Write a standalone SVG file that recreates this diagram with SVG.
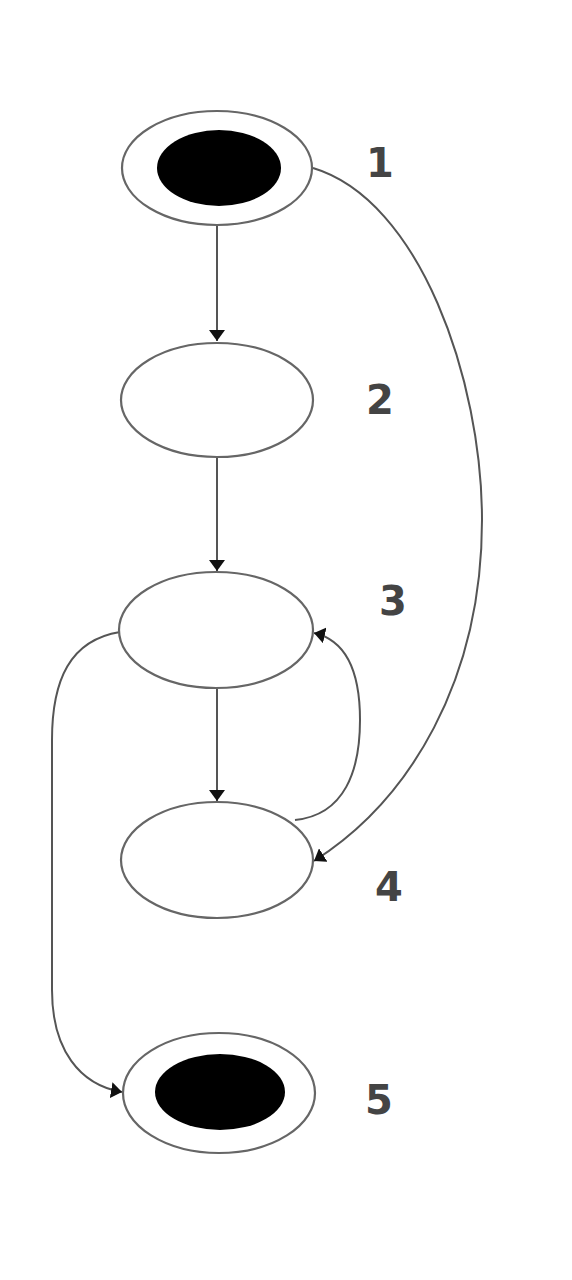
<svg xmlns="http://www.w3.org/2000/svg" width="572" height="1280" viewBox="0 0 572 1280">
<style>
.node{fill:#fff;stroke:#666;stroke-width:2.2}
.core{fill:#000;stroke:none}
.edge{fill:none;stroke:#555;stroke-width:2}
.lbl{font-family:"DejaVu Sans",sans-serif;font-size:40px;font-weight:bold;fill:#444;text-anchor:middle}
</style>
<defs>
<marker id="ah" markerUnits="userSpaceOnUse" markerWidth="16" markerHeight="16" refX="11" refY="8" orient="auto">
<path d="M0,0 L11,8 L0,16 z" fill="#111"/>
</marker>
</defs>
<rect width="572" height="1280" fill="#fff"/>
<g id="edges">
<path class="edge" d="M217 226 L217 341" marker-end="url(#ah)"/>
<path class="edge" d="M217 458 L217 571" marker-end="url(#ah)"/>
<path class="edge" d="M217 689 L217 801" marker-end="url(#ah)"/>
<path class="edge" d="M295 820 C345 815 360 770 360 720 C360 670 345 640 314 633" marker-end="url(#ah)"/>
<path class="edge" d="M313 168 C420 200 482 380 482 520 C482 680 410 800 314 861" marker-end="url(#ah)"/>
<path class="edge" d="M120 632 C70 640 52 680 52 740 L52 990 C52 1050 80 1085 122 1092" marker-end="url(#ah)"/>
</g>
<g id="n1">
<ellipse class="node" cx="217" cy="168" rx="95" ry="57"/>
<ellipse class="core" cx="219" cy="168" rx="62" ry="38"/>
<text class="lbl" x="380" y="177">1</text>
</g>
<g id="n2">
<ellipse class="node" cx="217" cy="400" rx="96" ry="57"/>
<text class="lbl" x="380" y="414">2</text>
</g>
<g id="n3">
<ellipse class="node" cx="216" cy="630" rx="97" ry="58"/>
<text class="lbl" x="393" y="615">3</text>
</g>
<g id="n4">
<ellipse class="node" cx="217" cy="860" rx="96" ry="58"/>
<text class="lbl" x="389" y="901">4</text>
</g>
<g id="n5">
<ellipse class="node" cx="219" cy="1093" rx="96" ry="60"/>
<ellipse class="core" cx="220" cy="1092" rx="65" ry="38"/>
<text class="lbl" x="379" y="1114">5</text>
</g>
</svg>
